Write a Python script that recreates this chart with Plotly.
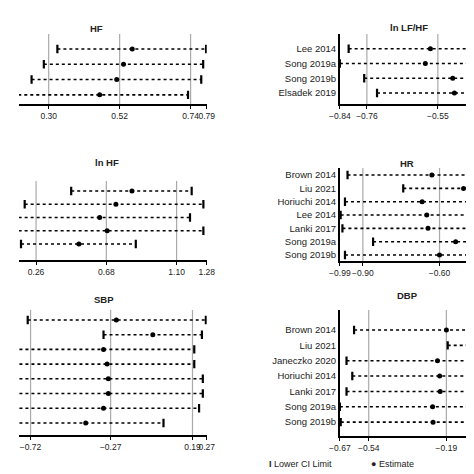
import plotly.graph_objects as go

# ---- data ----
hf_lo = [0.327, 0.285, 0.247, 0.15]
hf_est = [0.559, 0.532, 0.511, 0.458]
hf_hi = [0.788, 0.779, 0.773, 0.732]
hf_ticks = [0.30, 0.52, 0.74, 0.79]

lnhf_lo = [0.47, 0.192, 0.12, 0.12, 0.17]
lnhf_est = [0.833, 0.737, 0.64, 0.685, 0.516]
lnhf_hi = [1.19, 1.26, 1.18, 1.26, 0.856]
lnhf_ticks = [0.26, 0.68, 1.10, 1.28]

sbp_lo = [-0.736, -0.31, -0.85, -0.85, -0.85, -0.85, -0.85, -0.85]
sbp_est = [-0.238, -0.033, -0.31, -0.29, -0.283, -0.283, -0.31, -0.41]
sbp_hi = [0.265, 0.243, 0.2, 0.2, 0.248, 0.248, 0.227, 0.027]
sbp_ticks = [-0.72, -0.27, 0.19, 0.27]

lflf_names = ["Lee 2014", "Song 2019a", "Song 2019b", "Elsadek 2019"]
lflf_lo = [-0.814, -0.84, -0.768, -0.73]
lflf_est = [-0.572, -0.587, -0.506, -0.501]
lflf_hi = [-0.3, -0.3, -0.3, -0.3]
lflf_ticks = [-0.84, -0.76, -0.55]

hr_names = ["Brown 2014", "Liu 2021", "Horiuchi 2014", "Lee 2014", "Lanki 2017", "Song 2019a", "Song 2019b"]
hr_lo = [-0.96, -0.742, -0.97, -0.987, -0.98, -0.86, -0.97]
hr_est = [-0.63, -0.506, -0.668, -0.65, -0.645, -0.537, -0.6]
hr_hi = [-0.3, -0.3, -0.3, -0.3, -0.3, -0.3, -0.3]
hr_ticks = [-0.99, -0.90, -0.60]

dbp_names = ["Brown 2014", "Liu 2021", "Janeczko 2020", "Horiuchi 2014", "Lanki 2017", "Song 2019a", "Song 2019b"]
dbp_lo = [-0.606, -0.184, -0.64, -0.614, -0.64, -0.67, -0.666]
dbp_est = [-0.19, -0.03, -0.23, -0.22, -0.218, -0.252, -0.25]
dbp_hi = [0.1, 0.1, 0.1, 0.1, 0.1, 0.1, 0.1]
dbp_ticks = [-0.67, -0.54, -0.19]

W = H = 474
panels = [
    ("HF", None, hf_lo, hf_est, hf_hi, hf_ticks, [0.208, 0.79], (0, 196), (26, 96), [3.6, -0.98], (72, 13)),
    ("ln HF", None, lnhf_lo, lnhf_est, lnhf_hi, lnhf_ticks, [0.158, 1.28], (0, 196), (173, 252), [5.2, -0.75], (77, 147)),
    ("SBP", None, sbp_lo, sbp_est, sbp_hi, sbp_ticks, [-0.785, 0.27], (0, 196), (302, 427), [7.82, -0.68], (76, 291)),
    ("ln LF/HF", lflf_names, lflf_lo, lflf_est, lflf_hi, lflf_ticks, [-0.84, -0.446], (335, 474), (26, 96), [3.75, -1.0], (429, 12)),
    ("HR", hr_names, hr_lo, hr_est, hr_hi, hr_ticks, [-0.99, -0.469], (335, 474), (160, 253), [6.45, -0.53], (415, 148)),
    ("DBP", dbp_names, dbp_lo, dbp_est, dbp_hi, dbp_ticks, [-0.67, -0.07], (335, 474), (302, 428), [6.9, -1.3], (419, 287)),
]

fig = go.Figure()
layout = dict(width=W, height=H, margin=dict(l=0, r=0, t=0, b=0), showlegend=False,
              plot_bgcolor="white", paper_bgcolor="white",
              font=dict(family="Liberation Sans, Arial", size=9, color="#222"))
shapes, annots = [], []
for k, (title, names, lo, est, hi, ticks, xr, xd, yd, yr, tp) in enumerate(panels):
    n = len(lo)
    ys = list(range(n))
    xa = "x" if k == 0 else f"x{k+1}"
    ya = "y" if k == 0 else f"y{k+1}"
    for i in ys:
        fig.add_trace(go.Scatter(x=[lo[i], hi[i]], y=[i, i], mode="lines",
                                 line=dict(color="black", width=1.6, dash="dot"),
                                 xaxis=xa, yaxis=ya))
    fig.add_trace(go.Scatter(x=lo + hi, y=ys + ys, mode="markers",
                             marker=dict(symbol="line-ns", size=6, line=dict(color="black", width=2.2)),
                             xaxis=xa, yaxis=ya))
    fig.add_trace(go.Scatter(x=est, y=ys, mode="markers",
                             marker=dict(symbol="circle", size=5, color="black"),
                             xaxis=xa, yaxis=ya))
    for t in ticks:
        if xr[0] < t < xr[1] - 1e-9:
            shapes.append(dict(type="line", xref=xa, yref=f"{ya} domain", x0=t, x1=t, y0=0, y1=1,
                               line=dict(color="#aaa", width=1.2), layer="below"))
    kx = "xaxis" if k == 0 else f"xaxis{k+1}"
    ky = "yaxis" if k == 0 else f"yaxis{k+1}"
    layout[kx] = dict(domain=[xd[0] / W, xd[1] / W], range=xr, anchor=ya,
                      tickvals=ticks, ticktext=[f"{t:.2f}".replace("-", "\u2212") for t in ticks],
                      tickangle=0, showgrid=False, zeroline=False, showline=True,
                      linecolor="black", linewidth=1.8,
                      ticks="outside", ticklen=3, tickcolor="black", tickfont=dict(size=8.5))
    ydict = dict(domain=[1 - yd[1] / H, 1 - yd[0] / H], range=yr, anchor=xa,
                 showgrid=False, zeroline=False, tickfont=dict(size=9.5))
    if names:
        ydict.update(tickvals=ys, ticktext=names, showline=True, linecolor="black", linewidth=1.8, ticks="")
    else:
        ydict.update(showticklabels=False, showline=False, ticks="")
    layout[ky] = ydict
    annots.append(dict(text=f"<b>{title}</b>", x=tp[0] / W, y=1 - tp[1] / H, xref="paper", yref="paper",
                       showarrow=False, font=dict(size=9.5, color="#222")))

annots.append(dict(text="<b>I</b> Lower CI Limit", x=329 / W, y=1 - 463 / H, xref="paper", yref="paper",
                   showarrow=False, font=dict(size=9)))
annots.append(dict(text="\u25CF Estimate", x=415 / W, y=1 - 463 / H, xref="paper", yref="paper",
                   showarrow=False, font=dict(size=9)))
layout["shapes"] = shapes
layout["annotations"] = annots
fig.update_layout(**layout)
fig.write_html("out.html")
